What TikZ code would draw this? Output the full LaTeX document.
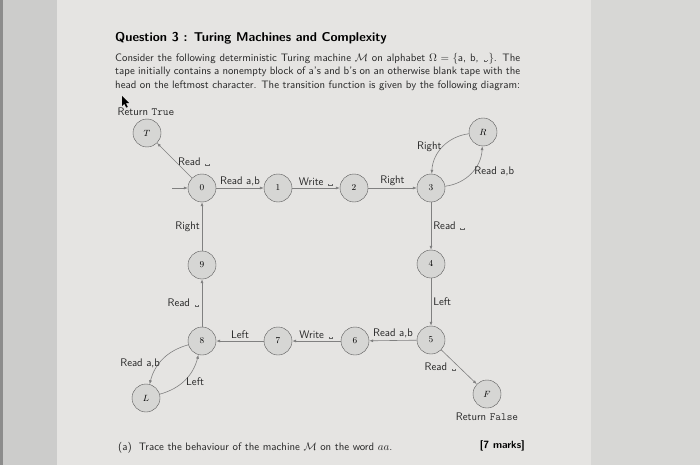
\documentclass[tikz,border=0pt]{standalone}
\usepackage{amsmath}
\usepackage{amssymb}
\usepackage{tikz}
\usetikzlibrary{arrows.meta}

\definecolor{deskbg}{RGB}{204,204,203}
\definecolor{pagebg}{RGB}{229,228,226}
\definecolor{rightbg}{RGB}{215,215,213}
\definecolor{statefill}{RGB}{214,214,212}

\newcommand{\blnk}{\kern0.1em\textcolor{black!60}{\vrule width0.3pt height0.15em depth0pt\vrule width0.3em height0.3pt depth0pt\vrule width0.3pt height0.15em depth0pt}\kern0.1em}

\begin{document}
\begin{tikzpicture}[x=1pt, y=-1pt, font=\sffamily,
  state/.style={draw=black!65, fill=statefill, circle, minimum size=28pt, inner sep=0pt, font=\small},
  edge/.style={draw=black!50, line width=0.6pt, -{Latex[length=4pt,width=3pt]}},
  lbl/.style={font=\sffamily\fontsize{11}{12}\selectfont, inner sep=2pt, text=black!85}]
  % photo background
  \fill[deskbg] (0,0) rectangle (57,465);
  \fill[black!45] (0,0) rectangle (3,465);
  \fill[pagebg] (57,0) rectangle (591,465);
  \fill[rightbg] (591,0) rectangle (700,465);
  \useasboundingbox (0,0) rectangle (700,465);

  % heading and question text
  \node[anchor=west, inner sep=0, font=\sffamily\bfseries\fontsize{12.8}{15}\selectfont] (title) at (115,38) {Question 3 : Turing Machines and Complexity};
  \node[anchor=north west, align=justify, text width=405pt, inner sep=0, text=black!85, font=\sffamily\fontsize{10.8}{13.5}\selectfont] (intro) at (115,53)
    {Consider the following deterministic Turing machine $\mathcal{M}$ on alphabet $\Omega=\{$a, b, \blnk$\}$. The\linebreak
     tape initially contains a nonempty block of a's and b's on an otherwise blank tape with the\linebreak
     head on the leftmost character. The transition function is given by the following diagram:};

  % mouse pointer
  \fill[black] (122,96) -- (122,106) -- (124.3,103.8) -- (126.2,107.6) -- (127.8,106.9) -- (125.9,103.2) -- (129,103) -- cycle;

  % states
  \node[state] (qT) at (147,133) {$T$};
  \node[state] (qR) at (483,132) {$R$};
  \node[state] (q0) at (202,188) {$0$};
  \node[state] (q1) at (278,188) {$1$};
  \node[state] (q2) at (354,188) {$2$};
  \node[state] (q3) at (431,188) {$3$};
  \node[state] (q9) at (202,265) {$9$};
  \node[state] (q4) at (431,264) {$4$};
  \node[state] (q8) at (202,341) {$8$};
  \node[state] (q7) at (278,341) {$7$};
  \node[state] (q6) at (355,341) {$6$};
  \node[state] (q5) at (431,340) {$5$};
  \node[state] (qL) at (146,398) {$L$};
  \node[state] (qF) at (487,394) {$F$};

  \node[lbl] (rettrue) at (146,112) {Return \texttt{True}};
  \node[lbl] (retfalse) at (487,417) {Return \texttt{False}};
  \coordinate (start) at (172,188);

  % transitions
  \draw[edge] (start) -- (q0);
  \draw[edge] (q0) -- node[lbl, pos=0.46, anchor=west] {Read \blnk} (qT);
  \draw[edge] (q0) -- node[lbl, above] {Read a,b} (q1);
  \draw[edge] (q1) -- node[lbl, above] {Write \blnk} (q2);
  \draw[edge] (q2) -- node[lbl, above] {Right} (q3);
  \draw[edge] (q3) to[bend right=40] node[lbl, pos=0.55, anchor=west, inner sep=1pt] {Read a,b} (qR);
  \draw[edge] (qR) to[bend right=40] node[lbl, pos=0.5, anchor=east, inner sep=1pt] {Right} (q3);
  \draw[edge] (q3) -- node[lbl, anchor=west] {Read \blnk} (q4);
  \draw[edge] (q4) -- node[lbl, anchor=west] {Left} (q5);
  \draw[edge] (q5) -- node[lbl, above] {Read a,b} (q6);
  \draw[edge] (q6) -- node[lbl, above] {Write \blnk} (q7);
  \draw[edge] (q7) -- node[lbl, above] {Left} (q8);
  \draw[edge] (q8) -- node[lbl, anchor=east] {Read \blnk} (q9);
  \draw[edge] (q9) -- node[lbl, anchor=east] {Right} (q0);
  \draw[edge] (q8) to[bend right=30] node[lbl, pos=0.55, anchor=east, inner sep=1pt, yshift=-3pt] {Read a,b} (qL);
  \draw[edge] (qL) to[bend right=30] node[lbl, pos=0.5, anchor=west, inner sep=1pt, yshift=-2pt] {Left} (q8);
  \draw[edge] (q5) -- node[lbl, anchor=east] {Read \blnk} (qF);

  % question part
  \node[anchor=west, inner sep=0, text=black!85, font=\sffamily\fontsize{10.8}{12}\selectfont] (parta) at (118,448) {(a)\ \ Trace the behaviour of the machine $\mathcal{M}$ on the word $aa$.};
  \node[anchor=east, inner sep=0, font=\sffamily\bfseries\fontsize{10.5}{12}\selectfont] (marks) at (525,446) {[7 marks]};
\end{tikzpicture}
\end{document}
